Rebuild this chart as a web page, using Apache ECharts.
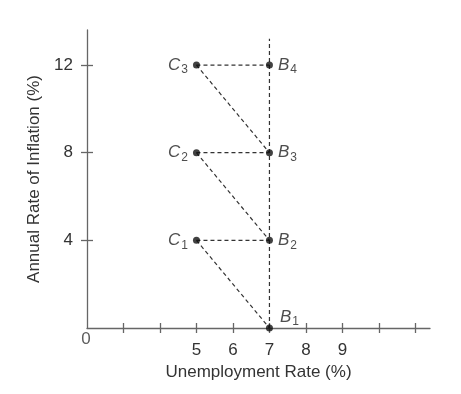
<!DOCTYPE html>
<html>
<head>
<meta charset="utf-8">
<script src="https://cdn.jsdelivr.net/npm/echarts@6/dist/echarts.min.js"></script>
<style>html,body{margin:0;padding:0;background:#fff}#c{width:461px;height:394px}</style>
</head>
<body>
<div id="c"></div>
<script>
// ---- data ----
const xTickValues = [3, 4, 5, 6, 7, 8, 9, 10, 11];
const xLabelValues = [5, 6, 7, 8, 9];
const yTickValues = [4, 8, 12];
const cPoints = [[5, 4], [5, 8], [5, 12]];
const cNames = ['1', '2', '3'];
const bPoints = [[7, 0], [7, 4], [7, 8], [7, 12]];
const bNames = ['1', '2', '3', '4'];
const verticalLine = [[7, 0], [7, 13.2]];
const xMin = 2, xMax = 11.4, yMin = 0, yMax = 13.6;

const FONT = 'Liberation Sans';
const TXT = '#333';
const LBL = '#222';
const AX = '#666';
const dash = { color: '#333', width: 1.2, type: [4, 3] };

const series = [];
series.push({ type: 'line', data: verticalLine, symbol: 'none', lineStyle: dash, silent: true, clip: false });
cPoints.forEach((c, i) => {
  // horizontal: C_i -> B_{i+1}
  series.push({ type: 'line', data: [c, bPoints[i + 1]], symbol: 'none', lineStyle: dash, clip: false });
  // diagonal: C_i -> B_i
  series.push({ type: 'line', data: [c, bPoints[i]], symbol: 'none', lineStyle: dash, clip: false });
});
const rich = {
  a: { fontFamily: FONT, fontSize: 17, fontStyle: 'italic', color: LBL },
  s: { fontFamily: FONT, fontSize: 12, color: LBL, padding: [10, 0, 0, 1] }
};
series.push({
  type: 'scatter', symbolSize: 7, itemStyle: { color: '#111' }, clip: false, z: 5,
  data: cPoints.map((p, i) => ({ value: p, name: 'C' + cNames[i] })),
  label: { show: true, position: 'left', distance: 5, formatter: p => '{a|C}{s|' + cNames[p.dataIndex] + '}', rich }
});
series.push({
  type: 'scatter', symbolSize: 7, itemStyle: { color: '#111' }, clip: false, z: 5,
  data: bPoints.map((p, i) => ({
    value: p, name: 'B' + bNames[i],
    label: i === 0 ? { offset: [2, -11] } : {}
  })),
  label: { show: true, position: 'right', distance: 5, formatter: p => '{a|B}{s|' + bNames[p.dataIndex] + '}', rich }
});
// origin "0" label
series.push({
  type: 'scatter', symbolSize: 0, clip: false, silent: true,
  data: [[xMin, yMin]],
  label: { show: true, position: 'bottom', distance: 3, offset: [-1, 0], formatter: '0', fontFamily: FONT, fontSize: 17, color: TXT }
});

const chart = echarts.init(document.getElementById('c'), null, { renderer: 'canvas' });
chart.setOption({
  animation: false,
  grid: { left: 87, right: 31, top: 30, bottom: 66, outerBoundsMode: 'none' },
  xAxis: [{
    type: 'value', min: xMin, max: xMax, position: 'bottom',
    name: 'Unemployment Rate (%)', nameLocation: 'middle', nameGap: 36,
    nameTextStyle: { fontFamily: FONT, fontSize: 17, color: TXT },
    axisLine: { show: true, onZero: false, lineStyle: { color: AX, width: 1.3 } },
    axisTick: { show: true, length: 5, customValues: xTickValues, lineStyle: { color: AX, width: 1.3 } },
    axisLabel: { show: true, customValues: xLabelValues, margin: 14, fontFamily: FONT, fontSize: 17, color: TXT },
    splitLine: { show: false }
  }, {
    type: 'value', min: xMin, max: xMax, position: 'bottom',
    axisLine: { show: false },
    axisTick: { show: true, inside: true, length: 5, customValues: xTickValues, lineStyle: { color: AX, width: 1.3 } },
    axisLabel: { show: false }, splitLine: { show: false }
  }],
  yAxis: [{
    type: 'value', min: yMin, max: yMax, position: 'left',
    name: 'Annual Rate of Inflation (%)', nameLocation: 'middle', nameGap: 44,
    nameTextStyle: { fontFamily: FONT, fontSize: 17, color: TXT },
    axisLine: { show: true, onZero: false, lineStyle: { color: AX, width: 1.3 } },
    axisTick: { show: true, length: 6, customValues: yTickValues, lineStyle: { color: AX, width: 1.3 } },
    axisLabel: { show: true, customValues: yTickValues, margin: 14, fontFamily: FONT, fontSize: 17, color: TXT },
    splitLine: { show: false }
  }, {
    type: 'value', min: yMin, max: yMax, position: 'left', offset: 0,
    axisLine: { show: false },
    axisTick: { show: true, inside: true, length: 6, customValues: yTickValues, lineStyle: { color: AX, width: 1.3 } },
    axisLabel: { show: false }, splitLine: { show: false }
  }],
  series: series
});
</script>
</body>
</html>
